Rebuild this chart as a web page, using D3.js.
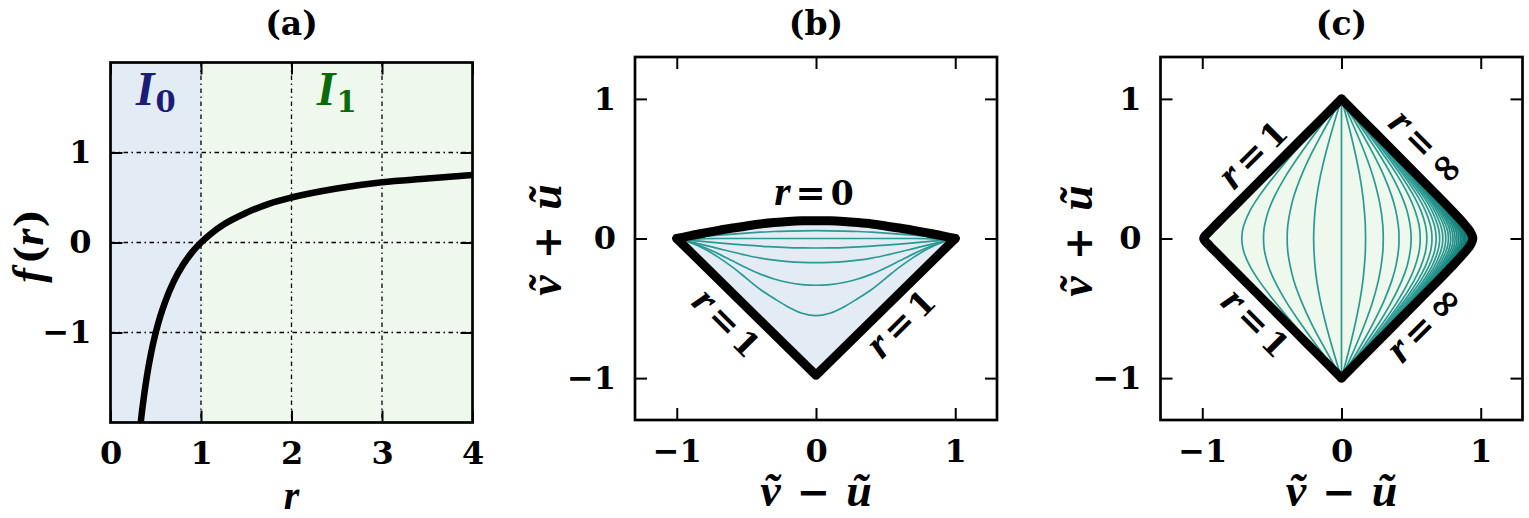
<!DOCTYPE html>
<html>
<head>
<meta charset="utf-8">
<script src="https://cdn.jsdelivr.net/npm/d3@7"></script>
<style>
  body { margin: 0; background: #fff; }
  svg { display: block; }
  .tick text { font-family: "DejaVu Serif"; font-weight: bold; font-size: 32px; fill: #000; }
</style>
</head>
<body>
<div id="chart-area"></div>
<script>
// ---------- panel (a): f(r) ----------
const rValues = [0.32, 0.35, 0.375, 0.4, 0.45, 0.5, 0.55, 0.6, 0.7, 0.8, 0.9, 1.0, 1.1, 1.25, 1.5, 1.75, 2.0, 2.5, 3.0, 3.5, 4.0]
const fValues = [-2.12, -1.86, -1.67, -1.5, -1.22, -1.0, -0.82, -0.67, -0.43, -0.25, -0.11, 0.0, 0.09, 0.2, 0.33, 0.43, 0.5, 0.6, 0.67, 0.71, 0.75]
const aXTicks = [0, 1, 2, 3, 4]
const aYTicks = [-1, 0, 1]
const aGridR = [1, 2, 3]
const aGridF = [-1, 0, 1]

// ---------- panel (b): interior, curves of constant r ----------
const bXLevels = [-1, -0.9, -0.8, -0.7, -0.6, -0.5, -0.4, -0.3, -0.2, -0.1, 0, 0.1, 0.2, 0.3, 0.4, 0.5, 0.6, 0.7, 0.8, 0.9, 1]
const bTopCurve = [0, 0.021, 0.040, 0.058, 0.075, 0.090, 0.104, 0.114, 0.122, 0.127, 0.128, 0.127, 0.122, 0.114, 0.104, 0.090, 0.075, 0.058, 0.040, 0.021, 0]
const bCurves = [
  [0, 0.005, 0.015, 0.024, 0.032, 0.039, 0.045, 0.050, 0.053, 0.055, 0.056, 0.055, 0.053, 0.050, 0.045, 0.039, 0.032, 0.024, 0.015, 0.005, 0],
  [0, -0.004, -0.001, 0, 0, 0, 0, 0, 0, 0, 0, 0, 0, 0, 0, 0, 0, 0, -0.001, -0.004, 0],
  [0, -0.013, -0.022, -0.031, -0.040, -0.048, -0.055, -0.060, -0.065, -0.067, -0.068, -0.067, -0.065, -0.060, -0.055, -0.048, -0.040, -0.031, -0.022, -0.013, 0],
  [0, -0.023, -0.047, -0.072, -0.097, -0.120, -0.140, -0.155, -0.165, -0.171, -0.173, -0.171, -0.165, -0.155, -0.140, -0.120, -0.097, -0.072, -0.047, -0.023, 0],
  [0, -0.028, -0.065, -0.110, -0.160, -0.210, -0.255, -0.290, -0.315, -0.330, -0.335, -0.330, -0.315, -0.290, -0.255, -0.210, -0.160, -0.110, -0.065, -0.028, 0],
  [0, -0.030, -0.075, -0.135, -0.205, -0.285, -0.365, -0.430, -0.490, -0.535, -0.553, -0.535, -0.490, -0.430, -0.365, -0.285, -0.205, -0.135, -0.075, -0.030, 0]
]
const bEdgeX = [1, 0, -1]
const bEdgeY = [0, -0.98, 0]

// ---------- panel (c): exterior, curves of constant r ----------
const cYLevels = [1, 0.9, 0.75, 0.6, 0.45, 0.3, 0.2, 0.1, 0.05, 0, -0.05, -0.1, -0.2, -0.3, -0.45, -0.6, -0.75, -0.9, -1]
const cCurves = [
  [0, -0.090, -0.224, -0.356, -0.481, -0.594, -0.657, -0.700, -0.712, -0.716, -0.712, -0.700, -0.657, -0.594, -0.481, -0.356, -0.224, -0.090, 0],
  [0, -0.077, -0.191, -0.299, -0.399, -0.482, -0.524, -0.551, -0.558, -0.560, -0.558, -0.551, -0.524, -0.482, -0.399, -0.299, -0.191, -0.077, 0],
  [0, -0.057, -0.141, -0.220, -0.288, -0.343, -0.368, -0.385, -0.389, -0.390, -0.389, -0.385, -0.368, -0.343, -0.288, -0.220, -0.141, -0.057, 0],
  [0, -0.031, -0.075, -0.116, -0.151, -0.178, -0.190, -0.197, -0.199, -0.200, -0.199, -0.197, -0.190, -0.178, -0.151, -0.116, -0.075, -0.031, 0],
  [0, 0, 0, 0, 0, 0, 0, 0, 0, 0, 0, 0, 0, 0, 0, 0, 0, 0, 0],
  [0, 0.027, 0.066, 0.101, 0.131, 0.154, 0.164, 0.171, 0.172, 0.173, 0.172, 0.171, 0.164, 0.154, 0.131, 0.101, 0.066, 0.027, 0],
  [0, 0.045, 0.111, 0.172, 0.225, 0.265, 0.284, 0.296, 0.299, 0.300, 0.299, 0.296, 0.284, 0.265, 0.225, 0.172, 0.111, 0.045, 0],
  [0, 0.060, 0.149, 0.231, 0.304, 0.362, 0.390, 0.407, 0.412, 0.413, 0.412, 0.407, 0.390, 0.362, 0.304, 0.231, 0.149, 0.060, 0],
  [0, 0.071, 0.174, 0.273, 0.361, 0.434, 0.470, 0.492, 0.498, 0.500, 0.498, 0.492, 0.470, 0.434, 0.361, 0.273, 0.174, 0.071, 0],
  [0, 0.077, 0.192, 0.301, 0.402, 0.486, 0.528, 0.556, 0.563, 0.565, 0.563, 0.556, 0.528, 0.486, 0.402, 0.301, 0.192, 0.077, 0],
  [0, 0.082, 0.203, 0.321, 0.429, 0.522, 0.570, 0.602, 0.610, 0.613, 0.610, 0.602, 0.570, 0.522, 0.429, 0.321, 0.203, 0.082, 0],
  [0, 0.085, 0.212, 0.334, 0.449, 0.549, 0.602, 0.637, 0.647, 0.650, 0.647, 0.637, 0.602, 0.549, 0.449, 0.334, 0.212, 0.085, 0],
  [0, 0.088, 0.218, 0.344, 0.464, 0.571, 0.627, 0.666, 0.676, 0.680, 0.676, 0.666, 0.627, 0.571, 0.464, 0.344, 0.218, 0.088, 0]
]
// densely packed curves close to r = infinity
const cDenseCurves = [
  [0, 0.091, 0.224, 0.354, 0.478, 0.589, 0.649, 0.689, 0.701, 0.705, 0.701, 0.689, 0.649, 0.589, 0.478, 0.354, 0.224, 0.091, 0],
  [0, 0.092, 0.228, 0.361, 0.488, 0.603, 0.667, 0.710, 0.723, 0.728, 0.723, 0.710, 0.667, 0.603, 0.488, 0.361, 0.228, 0.092, 0],
  [0, 0.093, 0.231, 0.366, 0.496, 0.616, 0.683, 0.730, 0.744, 0.749, 0.744, 0.730, 0.683, 0.616, 0.496, 0.366, 0.231, 0.093, 0],
  [0, 0.094, 0.233, 0.371, 0.504, 0.627, 0.697, 0.747, 0.763, 0.768, 0.763, 0.747, 0.697, 0.627, 0.504, 0.371, 0.233, 0.094, 0],
  [0, 0.095, 0.236, 0.375, 0.510, 0.636, 0.710, 0.763, 0.779, 0.785, 0.779, 0.763, 0.710, 0.636, 0.510, 0.375, 0.236, 0.095, 0],
  [0, 0.096, 0.238, 0.378, 0.515, 0.645, 0.721, 0.777, 0.795, 0.801, 0.795, 0.777, 0.721, 0.645, 0.515, 0.378, 0.238, 0.096, 0],
  [0, 0.096, 0.239, 0.381, 0.520, 0.652, 0.731, 0.791, 0.809, 0.816, 0.809, 0.791, 0.731, 0.652, 0.520, 0.381, 0.239, 0.096, 0],
  [0, 0.097, 0.241, 0.384, 0.524, 0.659, 0.740, 0.803, 0.823, 0.830, 0.823, 0.803, 0.740, 0.659, 0.524, 0.384, 0.241, 0.097, 0],
  [0, 0.097, 0.242, 0.386, 0.528, 0.664, 0.748, 0.814, 0.835, 0.843, 0.835, 0.814, 0.748, 0.664, 0.528, 0.386, 0.242, 0.097, 0],
  [0, 0.098, 0.243, 0.388, 0.531, 0.669, 0.755, 0.824, 0.847, 0.855, 0.847, 0.824, 0.755, 0.669, 0.531, 0.388, 0.243, 0.098, 0],
  [0, 0.098, 0.244, 0.390, 0.534, 0.674, 0.761, 0.833, 0.857, 0.866, 0.857, 0.833, 0.761, 0.674, 0.534, 0.390, 0.244, 0.098, 0],
  [0, 0.098, 0.245, 0.391, 0.536, 0.677, 0.766, 0.841, 0.866, 0.876, 0.866, 0.841, 0.766, 0.677, 0.536, 0.391, 0.245, 0.098, 0],
  [0, 0.098, 0.246, 0.393, 0.538, 0.681, 0.771, 0.848, 0.876, 0.886, 0.876, 0.848, 0.771, 0.681, 0.538, 0.393, 0.246, 0.098, 0],
  [0, 0.099, 0.246, 0.394, 0.540, 0.684, 0.775, 0.855, 0.884, 0.895, 0.884, 0.855, 0.775, 0.684, 0.540, 0.394, 0.246, 0.099, 0],
  [0, 0.099, 0.247, 0.395, 0.542, 0.686, 0.779, 0.862, 0.893, 0.905, 0.893, 0.862, 0.779, 0.686, 0.542, 0.395, 0.247, 0.099, 0]
]
const cRightEdge = [0, 0.0995, 0.249, 0.3975, 0.5465, 0.696, 0.793, 0.885, 0.924, 0.943, 0.924, 0.885, 0.793, 0.696, 0.5465, 0.3975, 0.249, 0.0995, 0]
const cLeftEdge = [0, -0.1, -0.25, -0.4, -0.55, -0.7, -0.8, -0.9, -0.949, -0.99, -0.949, -0.9, -0.8, -0.7, -0.55, -0.4, -0.25, -0.1, 0]
const diamondTicks = [-1, 0, 1]

// ---------- layout / style ----------
const A = { left: 110.5, top: 62.5, width: 362, height: 360 }
const B = { left: 635, top: 57, width: 362, height: 363 }
const C = { left: 1160.5, top: 57, width: 362, height: 363 }
const I0_FILL = "#e3ebf4"
const I1_FILL = "#eff8ec"
const TEAL = "#2a9a93"
const THICK = 9

const svg = d3.select("#chart-area").append("svg")
  .attr("width", 1529)
  .attr("height", 518)

const fmt = d => d < 0 ? "\u2212" + Math.abs(d) : String(d)

function frameAndAxes(g, x, y, xt, yt) {
  const [x0, x1] = x.range()
  const [yb, yt0] = y.range()
  g.append("g").attr("transform", `translate(0,${yb})`)
    .call(d3.axisBottom(x).tickValues(xt).tickSize(-12).tickPadding(19).tickFormat(fmt))
  g.append("g").attr("transform", `translate(0,${yt0})`)
    .call(d3.axisTop(x).tickValues(xt).tickSize(-12).tickFormat(""))
  g.append("g").attr("transform", `translate(${x0},0)`)
    .call(d3.axisLeft(y).tickValues(yt).tickSize(-12).tickPadding(19).tickFormat(fmt))
  g.append("g").attr("transform", `translate(${x1},0)`)
    .call(d3.axisRight(y).tickValues(yt).tickSize(-12).tickFormat(""))
  g.selectAll(".domain").remove()
  g.selectAll(".tick line").attr("stroke-width", 2)
  g.append("rect")
    .attr("x", x0).attr("y", yt0)
    .attr("width", x1 - x0).attr("height", yb - yt0)
    .attr("fill", "none").attr("stroke", "#000").attr("stroke-width", 2.7)
}

// parts: {t, it (italic letter), s (size), dx, dy, fill}
function mathText(g, parts, cx, cy, angle, baseY) {
  const t = g.append("text")
    .attr("transform", `translate(${cx},${cy}) rotate(${angle || 0})`)
    .attr("y", baseY || 0)
    .attr("text-anchor", "middle")
  parts.forEach(p => {
    t.append("tspan")
      .text(p.t)
      .attr("font-family", p.it ? "Liberation Serif" : "DejaVu Serif")
      .attr("font-style", p.it ? "italic" : "normal")
      .attr("font-weight", "bold")
      .attr("font-size", p.s)
      .attr("dx", p.dx || 0)
      .attr("dy", p.dy || 0)
      .attr("fill", p.fill || "#000")
  })
  return t
}

function title(g, txt, cx) {
  g.append("text").attr("x", cx).attr("y", 35)
    .attr("text-anchor", "middle")
    .attr("font-family", "DejaVu Serif").attr("font-weight", "bold").attr("font-size", 33)
    .text(txt)
}

// ================= panel (a) =================
const xa = d3.scaleLinear().domain([0, 4]).range([A.left, A.left + A.width])
const ya = d3.scaleLinear().domain([-2, 2]).range([A.top + A.height, A.top])
const ga = svg.append("g")

svg.append("defs").append("clipPath").attr("id", "clip-a")
  .append("rect").attr("x", A.left).attr("y", A.top).attr("width", A.width).attr("height", A.height)

ga.append("rect")
  .attr("x", xa(0)).attr("y", ya(2))
  .attr("width", xa(1) - xa(0)).attr("height", ya(-2) - ya(2))
  .attr("fill", I0_FILL)
ga.append("rect")
  .attr("x", xa(1)).attr("y", ya(2))
  .attr("width", xa(4) - xa(1)).attr("height", ya(-2) - ya(2))
  .attr("fill", I1_FILL)

ga.selectAll(".vgrid").data(aGridR).enter().append("line")
  .attr("x1", d => xa(d)).attr("x2", d => xa(d))
  .attr("y1", ya(2)).attr("y2", ya(-2))
  .attr("stroke", "#000").attr("stroke-width", 1.3).attr("stroke-dasharray", "4.5 3.5 1.5 3.5")
ga.selectAll(".hgrid").data(aGridF).enter().append("line")
  .attr("x1", xa(0)).attr("x2", xa(4))
  .attr("y1", d => ya(d)).attr("y2", d => ya(d))
  .attr("stroke", "#000").attr("stroke-width", 1.3).attr("stroke-dasharray", "4.5 3.5 1.5 3.5")

ga.append("path")
  .datum(d3.zip(rValues, fValues))
  .attr("clip-path", "url(#clip-a)")
  .attr("fill", "none").attr("stroke", "#000").attr("stroke-width", 6.5)
  .attr("d", d3.line().x(d => xa(d[0])).y(d => ya(d[1])).curve(d3.curveMonotoneX))

mathText(ga, [{ t: "I", it: true, s: 48, fill: "#1b1b78" }, { t: "0", s: 29, dx: 1, dy: 7, fill: "#1b1b78" }], xa(0.5), 105)
mathText(ga, [{ t: "I", it: true, s: 48, fill: "#0a6a0a" }, { t: "1", s: 29, dx: 1, dy: 7, fill: "#0a6a0a" }], xa(2.5), 105)

frameAndAxes(ga, xa, ya, aXTicks, aYTicks)
title(ga, "(a)", (A.left + A.left + A.width) / 2)
mathText(ga, [{ t: "r", it: true, s: 40 }], (A.left + A.left + A.width) / 2, 509)
mathText(ga, [{ t: "f", it: true, s: 44 }, { t: "(", s: 39, dx: 4 }, { t: "r", it: true, s: 44 }, { t: ")", s: 39, dx: 1 }], 43, 246, -90)

// ================= panel (b) =================
const xb = d3.scaleLinear().domain([-1.3, 1.3]).range([B.left, B.left + B.width])
const yb = d3.scaleLinear().domain([-1.3, 1.3]).range([B.top + B.height, B.top])
const gb = svg.append("g")
const bLine = d3.line().x(d => xb(d[0])).y(d => yb(d[1])).curve(d3.curveCatmullRom.alpha(0.5))
const bTopPts = d3.zip(bXLevels, bTopCurve)
const bEdgePts = d3.zip(bEdgeX, bEdgeY)

gb.append("path")
  .attr("d", bLine(bTopPts) + bEdgePts.slice(1).map(p => `L${xb(p[0])},${yb(p[1])}`).join("") + "Z")
  .attr("fill", I0_FILL)

gb.selectAll(".rcurve").data(bCurves).enter().append("path")
  .attr("d", c => bLine(d3.zip(bXLevels, c)))
  .attr("fill", "none").attr("stroke", TEAL).attr("stroke-width", 1.7)

gb.append("path").attr("d", bLine(bTopPts))
  .attr("fill", "none").attr("stroke", "#000").attr("stroke-width", THICK).attr("stroke-linecap", "round")
gb.append("path").attr("d", d3.line().x(d => xb(d[0])).y(d => yb(d[1]))(bEdgePts))
  .attr("fill", "none").attr("stroke", "#000").attr("stroke-width", THICK)
  .attr("stroke-linecap", "round").attr("stroke-linejoin", "round")

frameAndAxes(gb, xb, yb, diamondTicks, diamondTicks)
title(gb, "(b)", B.left + B.width / 2)

const rEq = v => [{ t: "r", it: true, s: 42 }, { t: "=", s: 36, dx: 5 }, { t: v, s: v === "\u221e" ? 40 : 33, dx: 5 }]
mathText(gb, rEq("0"), 814, 194, 0, 11)
mathText(gb, rEq("1"), 726, 324, 45, 11)
mathText(gb, rEq("1"), 902, 324, -45, 11)

const tildeLabel = op => [{ t: "v\u0303", it: true, s: 46 }, { t: op, s: 40, dx: 16 }, { t: "u\u0303", it: true, s: 46, dx: 16 }]
mathText(gb, tildeLabel("\u2212"), B.left + B.width / 2, 506)
mathText(gb, tildeLabel("+"), 561, 240, -90)

// ================= panel (c) =================
const xc = d3.scaleLinear().domain([-1.3, 1.3]).range([C.left, C.left + C.width])
const yc = d3.scaleLinear().domain([-1.3, 1.3]).range([C.top + C.height, C.top])
const gc = svg.append("g")
const cLine = d3.line().x(d => xc(d[0])).y(d => yc(d[1])).curve(d3.curveCatmullRom.alpha(0.5))
const rightPts = d3.zip(cRightEdge, cYLevels)
const leftPts = d3.zip(cLeftEdge, cYLevels)

gc.append("path")
  .attr("d", d3.line().x(d => xc(d[0])).y(d => yc(d[1])).curve(d3.curveLinearClosed)(rightPts.concat(leftPts.slice().reverse())))
  .attr("fill", I1_FILL)

gc.selectAll(".rcurve").data(cCurves).enter().append("path")
  .attr("d", c => cLine(d3.zip(c, cYLevels)))
  .attr("fill", "none").attr("stroke", TEAL).attr("stroke-width", 1.7)

const denseColor = d3.scaleLinear().domain([0, cDenseCurves.length - 1]).range([TEAL, "#0b7a73"])
gc.selectAll(".dcurve").data(cDenseCurves).enter().append("path")
  .attr("d", c => cLine(d3.zip(c, cYLevels)))
  .attr("fill", "none").attr("stroke", (c, i) => denseColor(i)).attr("stroke-width", 1.7)

;[rightPts, leftPts].forEach(pts => {
  gc.append("path").attr("d", cLine(pts))
    .attr("fill", "none").attr("stroke", "#000").attr("stroke-width", THICK)
    .attr("stroke-linecap", "round").attr("stroke-linejoin", "round")
})

frameAndAxes(gc, xc, yc, diamondTicks, diamondTicks)
title(gc, "(c)", C.left + C.width / 2)

mathText(gc, rEq("1"), 1254, 155, -45, 11)
mathText(gc, rEq("\u221e"), 1426, 149, 45, 11)
mathText(gc, rEq("1"), 1255, 324, 45, 11)
mathText(gc, rEq("\u221e"), 1426, 325, -45, 11)

mathText(gc, tildeLabel("\u2212"), C.left + C.width / 2, 506)
mathText(gc, tildeLabel("+"), 1092, 241, -90)
</script>
</body>
</html>
